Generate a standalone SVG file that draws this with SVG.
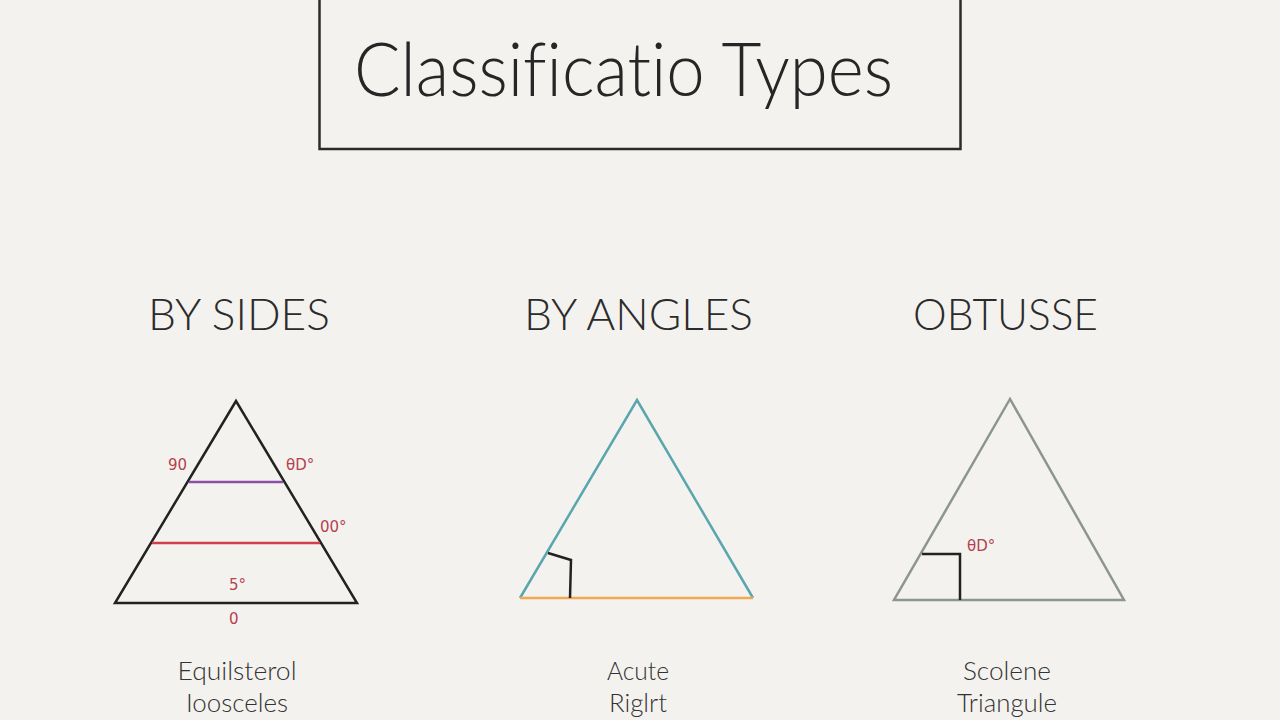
<svg xmlns="http://www.w3.org/2000/svg" width="1280" height="720" viewBox="0 0 1280 720">
<style>
.bg{fill:#f4f2ef}
text{font-variant-ligatures:none}
.title{font-family:Lato,"Liberation Sans",sans-serif;font-weight:300;font-size:75px;fill:#262626}
.head{font-family:Lato,"Liberation Sans",sans-serif;font-weight:300;font-size:43px;fill:#2b2b2b}
.lbl{font-family:Lato,"Liberation Sans",sans-serif;font-weight:300;font-size:26px;fill:#333}
.ang{font-family:"DejaVu Sans",sans-serif;font-size:15px;fill:#b5414f}
.tri{fill:none;stroke-width:2.5;stroke-linejoin:miter}
</style>
<rect class="bg" x="0" y="0" width="1280" height="720"/>
<g id="title">
<rect x="319.5" y="-5" width="641" height="154" fill="none" stroke="#2b2b2b" stroke-width="2.5"/>
<text class="title" x="354" y="96" textLength="539" lengthAdjust="spacingAndGlyphs">Classificatio Types</text>
</g>
<g id="heading-sides"><text class="head" x="148" y="330" textLength="182" lengthAdjust="spacingAndGlyphs">BY SIDES</text></g>
<g id="heading-angles"><text class="head" x="524" y="330" textLength="229" lengthAdjust="spacingAndGlyphs">BY ANGLES</text></g>
<g id="heading-obtuse"><text class="head" x="913" y="330" textLength="185" lengthAdjust="spacingAndGlyphs">OBTUSSE</text></g>
<g id="triangle-sides">
<polygon class="tri" points="236,401 115,603 357,603" stroke="#222"/>
<line x1="189" y1="482" x2="283" y2="482" stroke="#8a4fa8" stroke-width="2.5"/>
<line x1="152" y1="543" x2="320" y2="543" stroke="#d0404a" stroke-width="2.5"/>
<text class="ang" x="168" y="470">90</text>
<text class="ang" x="286" y="470">θD°</text>
<text class="ang" x="320" y="532">00°</text>
<text class="ang" x="229" y="590">5°</text>
<text class="ang" x="229" y="624">0</text>
</g>
<g id="triangle-angles">
<polyline class="tri" points="520,598 637,400 753,598" stroke="#5aa6ad"/>
<line x1="520" y1="598" x2="753" y2="598" stroke="#f0aa4e" stroke-width="2.5"/>
<polyline points="548,553 571,560 570,598" fill="none" stroke="#222" stroke-width="2.5"/>
</g>
<g id="triangle-obtuse">
<polygon class="tri" points="1010,399 894,600 1124,600" stroke="#8c968e"/>
<polyline points="922,554 960,554 960,600" fill="none" stroke="#222" stroke-width="2.5"/>
<text class="ang" x="967" y="551" fill="#7a2c36">θD°</text>
</g>
<g id="label-sides">
<text class="lbl" x="237" y="680" text-anchor="middle" textLength="119" lengthAdjust="spacingAndGlyphs">Equilsterol</text>
<text class="lbl" x="237" y="712" text-anchor="middle" textLength="102" lengthAdjust="spacingAndGlyphs">Ioosceles</text>
</g>
<g id="label-angles">
<text class="lbl" x="638" y="680" text-anchor="middle" textLength="62" lengthAdjust="spacingAndGlyphs">Acute</text>
<text class="lbl" x="638" y="712" text-anchor="middle" textLength="58" lengthAdjust="spacingAndGlyphs">Riglrt</text>
</g>
<g id="label-obtuse">
<text class="lbl" x="1007" y="680" text-anchor="middle" textLength="88" lengthAdjust="spacingAndGlyphs">Scolene</text>
<text class="lbl" x="1007" y="712" text-anchor="middle" textLength="100" lengthAdjust="spacingAndGlyphs">Triangule</text>
</g>
<g id="connectors"></g>
</svg>
